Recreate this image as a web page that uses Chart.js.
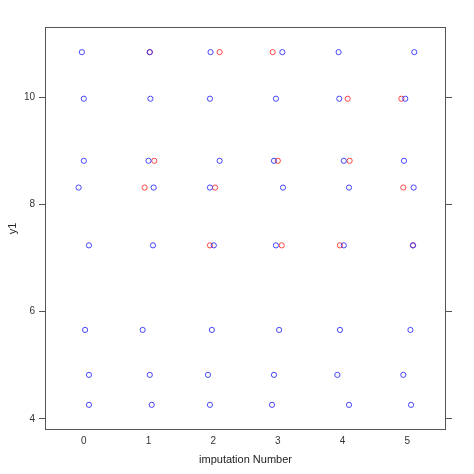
<!DOCTYPE html>
<html>
<head>
<meta charset="utf-8">
<script src="https://cdn.jsdelivr.net/npm/chart.js@4.4.1/dist/chart.umd.min.js"></script>
<style>
  html, body { margin: 0; padding: 0; background: #fff; }
  #wrap { width: 474px; height: 474px; }
</style>
</head>
<body>
<div id="wrap"><canvas id="plotCanvas" width="474" height="474"></canvas></div>
<script>
// tick labels
const xTicks = [0, 1, 2, 3, 4, 5];
const yTicks = [4, 6, 8, 10];

// observed values (blue), imputation number with jitter
const obsX = [
    -0.03, 0.00, 0.00, -0.08, 0.08, 0.02, 0.08, 0.08,
    1.02, 1.03, 1.00, 1.08, 1.07, 0.91, 1.02, 1.05,
    1.96, 1.95, 2.10, 1.95, 2.01, 1.98, 1.92, 1.95,
    3.07, 2.97, 2.94, 3.08, 2.97, 3.02, 2.94, 2.91,
    3.94, 3.95, 4.02, 4.10, 4.02, 3.96, 3.92, 4.10,
    5.11, 4.97, 4.95, 5.10, 5.09, 5.05, 4.94, 5.06
];
const obsY = [
    10.85, 9.98, 8.82, 8.32, 7.24, 5.66, 4.82, 4.26,
    10.85, 9.98, 8.82, 8.32, 7.24, 5.66, 4.82, 4.26,
    10.85, 9.98, 8.82, 8.32, 7.24, 5.66, 4.82, 4.26,
    10.85, 9.98, 8.82, 8.32, 7.24, 5.66, 4.82, 4.26,
    10.85, 9.98, 8.82, 8.32, 7.24, 5.66, 4.82, 4.26,
    10.85, 9.98, 8.82, 8.32, 7.24, 5.66, 4.82, 4.26
];

// imputed values (red)
const impX = [
    1.02, 1.09, 0.94,
    2.10, 2.03, 1.95,
    2.92, 3.00, 3.06,
    4.08, 4.11, 3.96,
    4.91, 4.94, 5.09
];
const impY = [
    10.85, 8.82, 8.32,
    10.85, 8.32, 7.24,
    10.85, 8.82, 7.24,
    9.98, 8.82, 7.24,
    9.98, 8.32, 7.24
];

const toPoints = (xs, ys) => xs.map((x, i) => ({ x: x, y: ys[i] }));

const tickFont = { family: 'Liberation Sans, Arial, sans-serif', size: 10 };
const titleFont = { family: 'Liberation Sans, Arial, sans-serif', size: 11 };

// box round the panel
const panelBox = {
    id: 'panelBox',
    afterDraw(chart) {
        const a = chart.chartArea;
        const c = chart.ctx;
        c.save();
        c.strokeStyle = '#555555';
        c.lineWidth = 1;
        c.strokeRect(Math.round(a.left) + 0.5, Math.round(a.top) + 0.5,
            Math.round(a.right - a.left) - 1, Math.round(a.bottom - a.top) - 1);
        c.restore();
    }
};

const pointStyle = col => ({
    pointStyle: 'circle',
    pointRadius: 2.6,
    pointBorderWidth: 1,
    pointBorderColor: col,
    pointBackgroundColor: 'rgba(0,0,0,0)',
    showLine: false
});

new Chart(document.getElementById('plotCanvas').getContext('2d'), {
    type: 'scatter',
    data: {
        datasets: [
            Object.assign({ label: 'observed', data: toPoints(obsX, obsY) }, pointStyle('rgba(40,40,255,0.85)')),
            Object.assign({ label: 'imputed', data: toPoints(impX, impY) }, pointStyle('rgba(255,40,40,0.85)'))
        ]
    },
    options: {
        responsive: false,
        animation: false,
        layout: { padding: 0 },
        plugins: {
            legend: { display: false },
            tooltip: { enabled: false }
        },
        scales: {
            x: {
                type: 'linear',
                min: -0.6,
                max: 5.6,
                afterBuildTicks: s => { s.ticks = xTicks.map(v => ({ value: v })); },
                afterFit: s => { s.height = 44; },
                grid: { display: false, drawTicks: false },
                border: { display: false },
                ticks: { font: tickFont, color: '#333333', padding: 5, maxRotation: 0 },
                title: { display: true, text: 'imputation Number', font: titleFont, color: '#222222', padding: { top: 0, bottom: 7 } }
            },
            y: {
                type: 'linear',
                position: 'left',
                min: 3.79,
                max: 11.32,
                afterBuildTicks: s => { s.ticks = yTicks.map(v => ({ value: v })); },
                afterFit: s => { s.width = 45; },
                grid: { drawOnChartArea: false, tickLength: 6, color: '#555555' },
                border: { display: false },
                ticks: { font: tickFont, color: '#333333', padding: 4 },
                title: { display: true, text: 'y1', font: titleFont, color: '#222222', padding: { top: 6, bottom: 0 } }
            },
            yRight: {
                type: 'linear',
                position: 'right',
                min: 3.79,
                max: 11.32,
                afterBuildTicks: s => { s.ticks = yTicks.map(v => ({ value: v })); },
                afterFit: s => { s.width = 28; },
                grid: { drawOnChartArea: false, tickLength: 6, color: '#555555' },
                border: { display: false },
                ticks: { display: false }
            },
            xTop: {
                type: 'linear',
                position: 'top',
                min: -0.6,
                max: 5.6,
                afterFit: s => { s.height = 27; },
                grid: { display: false },
                border: { display: false },
                ticks: { display: false }
            }
        }
    },
    plugins: [panelBox]
});
</script>
</body>
</html>
